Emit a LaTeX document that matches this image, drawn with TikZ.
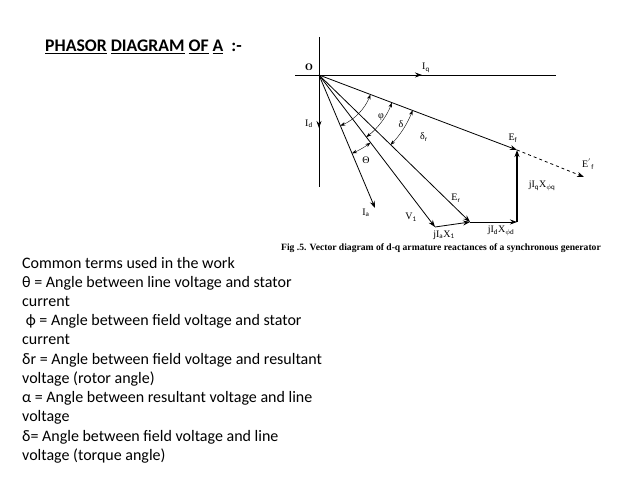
\documentclass[tikz,border=0pt]{standalone}
\usepackage{fontspec}
\setmainfont{Carlito}
\newfontfamily\serifl{Liberation Serif}
\usetikzlibrary{arrows.meta,calc}
\begin{document}
\begin{tikzpicture}[x=1pt,y=-1pt,
  vec/.style={thick,-{Stealth[length=7pt,width=5pt]}},
  ang/.style={thin,{Stealth[length=5pt,width=3.5pt]}-{Stealth[length=5pt,width=3.5pt]}},
  lab/.style={font=\serifl\fontsize{10}{11}\selectfont,inner sep=0pt},
  body/.style={font=\fontsize{16}{18}\selectfont,anchor=base west,inner sep=0pt}]
\useasboundingbox (0,0) rectangle (638,478);
\node[anchor=base west,inner sep=0pt,font=\bfseries\fontsize{17.7}{20}\selectfont] (title) at (45,52)
  {\underline{PHASOR} \underline{DIAGRAM} \underline{OF} \underline{A}\ \ :-};
% axes
\coordinate (O) at (319,75);
\coordinate (hl) at (295,75); \coordinate (hr) at (556,75);
\coordinate (vt) at (319,37); \coordinate (vb) at (319,187);
\draw[thin] (hl) -- (hr);
\draw[thin] (vt) -- (vb);
\coordinate (Iq) at (422,75); \coordinate (Id) at (319,128);
\draw[vec] (O) -- (Iq);
\draw[vec] (O) -- (Id);
\coordinate (Ia) at (375,208);
\coordinate (V1) at (435,227);
\coordinate (Er) at (470,222);
\coordinate (Dd) at (517,222);
\coordinate (Ef) at (517,150);
\coordinate (Efp) at (584,177);
\draw[vec] (O) -- (Ia);
\draw[vec] (O) -- (V1);
\draw[vec] (O) -- (Er);
\draw[vec] (O) -- (Ef);
\draw[thick,dashed,-{Stealth[length=7pt,width=5pt]}] (Ef) -- (Efp);
\draw[vec] (V1) -- (Er);
\draw[vec] (Er) -- (Dd);
\draw[vec,very thick] (Dd) -- (Ef);
% angle arcs
\draw[ang] ($(O)+(20.7:55)$) arc[start angle=20.7,end angle=67.2,radius=55];
\draw[ang] ($(O)+(20.7:78)$) arc[start angle=20.7,end angle=52.7,radius=78];
\draw[ang] ($(O)+(20.7:100)$) arc[start angle=20.7,end angle=44.4,radius=100];
\draw[ang] ($(O)+(67.2:85)$) arc[start angle=67.2,end angle=52.7,radius=85];
% labels
\node[lab,font=\serifl\bfseries\fontsize{10}{11}\selectfont] (lO) at (309,67) {O};
\node[lab] (lIq) at (426,68) {I$_\mathrm{q}$};
\node[lab] (lId) at (309,124) {I$_\mathrm{d}$};
\node[lab] (lphi) at (381,117) {φ};
\node[lab] (ld) at (401,124) {δ};
\node[lab] (ldr) at (424,137) {δ$_\mathrm{r}$};
\node[lab] (lth) at (366,160) {Θ};
\node[lab] (lIa) at (366,213) {I$_\mathrm{a}$};
\node[lab] (lV1) at (411,217) {V$_\mathrm{1}$};
\node[lab] (lEr) at (456,198) {E$_\mathrm{r}$};
\node[lab] (lEf) at (513,138) {E$_\mathrm{f}$};
\node[lab] (lEfp) at (588,164) {E$^{'}{}_\mathrm{f}$};
\node[lab] (lq) at (542,186) {jI$_\mathrm{q}$X$_{\mathrm{\phi q}}$};
\node[lab] (la) at (444,235) {jI$_\mathrm{a}$X$_\mathrm{1}$};
\node[lab] (lddd) at (501,231) {jI$_\mathrm{d}$X$_{\mathrm{\phi d}}$};
\node[lab,font=\serifl\bfseries\fontsize{9.6}{11}\selectfont] (cap) at (441,248)
  {Fig .5. Vector diagram of d-q armature reactances of a synchronous generator};
% body text
\node[body] (t1) at (22,269) {Common terms used in the work};
\node[body] (t2) at (22,288) {θ = Angle between line voltage and stator};
\node[body] (t3) at (22,307) {current};
\node[body] (t4) at (22,326) {\ ф = Angle between field voltage and stator};
\node[body] (t5) at (22,345) {current};
\node[body] (t6) at (22,365) {δr = Angle between field voltage and resultant};
\node[body] (t7) at (22,384) {voltage (rotor angle)};
\node[body] (t8) at (22,403) {α = Angle between resultant voltage and line};
\node[body] (t9) at (22,422) {voltage};
\node[body] (t10) at (22,442) {δ= Angle between field voltage and line};
\node[body] (t11) at (22,461) {voltage (torque angle)};
\end{tikzpicture}
\end{document}
